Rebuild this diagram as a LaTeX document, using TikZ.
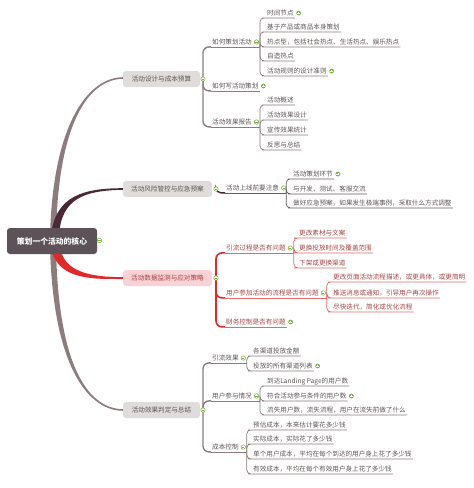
\documentclass[tikz,border=0pt]{standalone}
\usepackage{fontspec}
\newfontfamily\cjk{Noto Sans CJK SC}
\usetikzlibrary{calc}
\definecolor{lineA}{HTML}{8C7C7D}
\definecolor{lineD}{HTML}{4A2836}
\definecolor{lineDl}{HTML}{6A5A60}
\definecolor{lineR}{HTML}{E02A2A}
\definecolor{lineRl}{HTML}{E46A6A}
\definecolor{txtG}{HTML}{5E5556}
\definecolor{txtR}{HTML}{A84444}
\definecolor{boxG}{HTML}{E0DCDC}
\definecolor{boxR}{HTML}{F8D2D5}
\definecolor{rootC}{HTML}{5D5258}
\definecolor{iconG}{HTML}{7CB342}
\tikzset{
  lf/.style={font=\cjk\fontsize{6.6}{7}\selectfont, text=txtG, inner xsep=1pt, inner ysep=1.2pt, text height=5.8pt, text depth=1.2pt, anchor=west},
  lfr/.style={lf, text=txtR},
  bbox/.style={font=\cjk\fontsize{6.6}{7}\selectfont, text=txtG, fill=boxG, rounded corners=3pt, minimum height=16pt, inner xsep=0pt},
  rootbox/.style={font=\cjk\bfseries\fontsize{7.8}{9}\selectfont, text=white, fill=rootC, rounded corners=3pt, minimum width=90pt, minimum height=26pt, inner xsep=0pt},
  mbA/.style={draw=lineA, line width=1.4pt, rounded corners=6pt},
  mbD/.style={draw=lineD, line width=1.4pt, rounded corners=5pt},
  mbR/.style={draw=lineR, line width=1.6pt, rounded corners=6pt},
  conA/.style={draw=lineA, line width=0.7pt, rounded corners=4pt},
  conD/.style={draw=lineDl, line width=0.7pt, rounded corners=4pt},
  conR/.style={draw=lineRl, line width=0.7pt, rounded corners=4pt},
  plusicon/.pic={\fill[iconG] (0,0) circle (2.4); \draw[white, line width=0.6pt] (-1.4,0)--(1.4,0) (0,-1.4)--(0,1.4);},
  juncicon/.pic={\draw[iconG, fill=white, line width=0.6pt] (0,0) circle (2.2); \draw[iconG, line width=0.5pt] (-1.1,0)--(1.1,0);}
}
\begin{document}
\begin{tikzpicture}[x=1pt,y=-1pt]
\useasboundingbox (0,0) rectangle (474,488);
% main connectors (tapered)
\fill[lineA] (50,236) .. controls (53,120) and (90,77.2) .. (123,77.2) -- (123,78.8) .. controls (90,79.2) and (58,120) .. (56,236) -- cycle;
\fill[lineA] (50,246) .. controls (53,370) and (90,410.8) .. (123,410.8) -- (123,409.2) .. controls (90,408.8) and (58,370) .. (56,246) -- cycle;
\fill[lineD] (51,236) .. controls (55,195) and (85,188.2) .. (123,188.2) -- (123,189.8) .. controls (85,190.5) and (61,198) .. (59,236) -- cycle;
\fill[lineR] (51,246) .. controls (55,278) and (88,279.8) .. (123,278.8) -- (123,277.2) .. controls (90,277) and (63,272) .. (60,246) -- cycle;
% root
\node[rootbox] (root) at (52,241) {策划一个活动的核心};
\pic at (99.5,240.5) {juncicon};
% ===== Branch 1
\node[bbox, minimum width=77pt] (b1) at (161.5,79) {活动设计与成本预算};
\coordinate (j1) at (203,79);
\node[lf] (s11) at (211,42) {如何策划活动};
\node[lf] (s12) at (211,86) {如何写活动策划};
\node[lf] (s13) at (211,122) {活动效果报告};
\foreach \n in {s11,s12,s13} \draw[mbA] (j1) |- (\n.south west);
\draw[conA] (s12.south west) -- (s12.south east);
\pic at ($(s12.east)+(3.8,0)$) {plusicon};
\coordinate (p11) at ($(s11.south east)+(7,0)$);
\draw[conA] (s11.south west) -- (p11);
\node[lf] (a1) at (266,13) {时间节点};
\node[lf] (a2) at (266,27) {基于产品或商品本身策划};
\node[lf] (a3) at (266,42) {热点型，包括社会热点、生活热点、娱乐热点};
\node[lf] (a4) at (266,56) {自造热点};
\node[lf] (a5) at (266,71) {活动规则的设计准则};
\foreach \n in {a1,a2,a3,a4,a5} \draw[conA] (p11) |- (\n.south west) -- (\n.south east);
\pic at ($(a1.east)+(3.8,0)$) {plusicon};
\pic at ($(a5.east)+(3.8,0)$) {plusicon};
\pic at ($(s11.east)+(3.5,0)$) {juncicon};
\coordinate (p13) at ($(s13.south east)+(7,0)$);
\draw[conA] (s13.south west) -- (p13);
\node[lf] (a6) at (266,100) {活动概述};
\node[lf] (a7) at (266,115) {活动效果设计};
\node[lf] (a8) at (266,130) {宣传效果统计};
\node[lf] (a9) at (266,145) {反思与总结};
\foreach \n in {a6,a7,a8,a9} \draw[conA] (p13) |- (\n.south west) -- (\n.south east);
\pic at ($(s13.east)+(3.5,0)$) {juncicon};
\pic at (j1) {juncicon};
% ===== Branch 2
\node[bbox, minimum width=89pt] (b2) at (167.5,189) {活动风险管控与应急预案};
\coordinate (j2) at (216,189);
\node[lf] (s21) at (225,188) {活动上线前要注意};
\draw[mbD] (j2) |- (s21.south west);
\coordinate (p21) at ($(s21.south east)+(6,0)$);
\draw[conD] (s21.south west) -- (p21);
\node[lf] (d1) at (292,174) {活动策划环节};
\node[lf] (d2) at (292,189) {与开发、测试、客服交流};
\node[lf] (d3) at (292,203) {做好应急预案，如果发生极端事例，采取什么方式调整};
\foreach \n in {d1,d2,d3} \draw[conD] (p21) |- (\n.south west) -- (\n.south east);
\pic at ($(d1.east)+(3.8,0)$) {plusicon};
\pic at ($(s21.east)+(3.5,0)$) {juncicon};
\pic at (j2) {juncicon};
% ===== Branch 3
\node[bbox, minimum width=89pt, fill=boxR, text=txtR] (b3) at (167.5,278) {活动数据监测与应对策略};
\coordinate (j3) at (216,278);
\node[lfr] (s31) at (225,248) {引流过程是否有问题};
\node[lfr] (s32) at (225,293) {用户参加活动的流程是否有问题};
\node[lfr] (s33) at (225,322) {财务控制是否有问题};
\foreach \n in {s31,s32,s33} \draw[mbR] (j3) |- (\n.south west);
\draw[conR] (s33.south west) -- (s33.south east);
\pic at ($(s33.east)+(3.8,0)$) {plusicon};
\coordinate (p31) at ($(s31.south east)+(7,0)$);
\draw[conR] (s31.south west) -- (p31);
\node[lfr] (r1) at (298,233) {更改素材与文案};
\node[lfr] (r2) at (298,248) {更换投放时间及覆盖范围};
\node[lfr] (r3) at (298,263) {下架或更换渠道};
\foreach \n in {r1,r2,r3} \draw[conR] (p31) |- (\n.south west) -- (\n.south east);
\pic at ($(s31.east)+(3.5,0)$) {juncicon};
\coordinate (p32) at ($(s32.south east)+(7,0)$);
\draw[conR] (s32.south west) -- (p32);
\node[lfr] (r4) at (332,277) {更改页面活动流程描述，或更具体，或更简明};
\node[lfr] (r5) at (332,293) {推送消息或通知，引导用户再次操作};
\node[lfr] (r6) at (332,307) {尽快迭代，简化或优化流程};
\foreach \n in {r4,r5,r6} \draw[conR] (p32) |- (\n.south west) -- (\n.south east);
\pic at ($(s32.east)+(3.5,0)$) {juncicon};
\pic at (j3) {juncicon};
% ===== Branch 4
\node[bbox, minimum width=77pt] (b4) at (161.5,410) {活动效果判定与总结};
\coordinate (j4) at (203,410);
\node[lf] (s41) at (211,358) {引流效果};
\node[lf] (s42) at (211,396) {用户参与情况};
\node[lf] (s43) at (211,447) {成本控制};
\foreach \n in {s41,s42,s43} \draw[mbA] (j4) |- (\n.south west);
\coordinate (p41) at ($(s41.south east)+(7,0)$);
\draw[conA] (s41.south west) -- (p41);
\node[lf] (e1) at (252,351) {各渠道投放金额};
\node[lf] (e2) at (252,366) {投放的所有渠道列表};
\foreach \n in {e1,e2} \draw[conA] (p41) |- (\n.south west) -- (\n.south east);
\pic at ($(e2.east)+(3.8,0)$) {plusicon};
\pic at ($(s41.east)+(3.5,0)$) {juncicon};
\coordinate (p42) at ($(s42.south east)+(7,0)$);
\draw[conA] (s42.south west) -- (p42);
\node[lf] (e3) at (266,381) {到达Landing Page的用户数};
\node[lf] (e4) at (266,396) {符合活动参与条件的用户数};
\node[lf] (e5) at (266,410) {流失用户数，流失流程，用户在流失前做了什么};
\foreach \n in {e3,e4,e5} \draw[conA] (p42) |- (\n.south west) -- (\n.south east);
\pic at ($(e4.east)+(3.8,0)$) {plusicon};
\pic at ($(s42.east)+(3.5,0)$) {juncicon};
\coordinate (p43) at ($(s43.south east)+(7,0)$);
\draw[conA] (s43.south west) -- (p43);
\node[lf] (e6) at (252,425) {预估成本，本来估计要花多少钱};
\node[lf] (e7) at (252,439) {实际成本，实际花了多少钱};
\node[lf] (e8) at (252,454) {单个用户成本，平均在每个到达的用户身上花了多少钱};
\node[lf] (e9) at (252,469) {有效成本，平均在每个有效用户身上花了多少钱};
\foreach \n in {e6,e7,e8,e9} \draw[conA] (p43) |- (\n.south west) -- (\n.south east);
\pic at ($(s43.east)+(3.5,0)$) {juncicon};
\pic at (j4) {juncicon};
\end{tikzpicture}
\end{document}
